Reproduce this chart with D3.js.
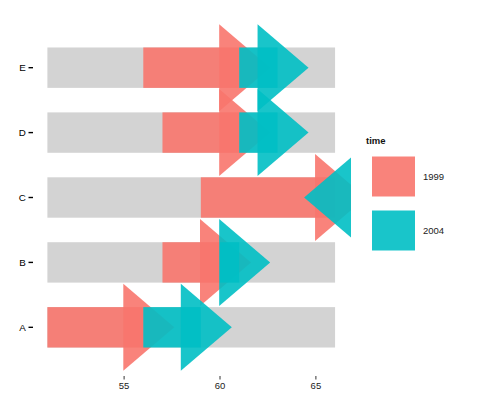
<!DOCTYPE html>
<html>
<head>
<meta charset="utf-8">
<script src="https://cdn.jsdelivr.net/npm/d3@7"></script>
<style>
body{margin:0;background:#fff}
text{font-family:"Liberation Sans",Arial,sans-serif}
</style>
</head>
<body>
<svg width="479" height="409"></svg>
<script>
var categories = ['A','B','C','D','E']
var rangeLow = [51,51,51,51,51]
var rangeHigh = [66,66,66,66,66]
var start1999 = [51,57,59,57,56]
var end1999 = [56,60,66,61,61]
var start2004 = [56,60,66,61,61]
var end2004 = [59,61,66,63,63]
var years = ['1999','2004']
var colors = ['#F8766D','#00BFC4']
var xTicks = [55,60,65]

var svg = d3.select('svg')

// panel box (note: "top" is taken by window, so prefix these)
var panelL = 33, panelR = 351, panelT = 19, panelB = 376

var x = d3.scaleLinear().domain([50.25, 66.83]).range([panelL, panelR])
var y = d3.scalePoint().domain(categories).range([panelB, panelT]).padding(0.75)

var barH = 40.4,   // shaft / bar thickness
    headHalf = 43.5,
    headBack = 20,  // head base sits this far behind the end point
    headFwd = 31    // tip sits this far past the end point

svg.append('clipPath').attr('id', 'panel')
    .append('rect')
    .attr('x', panelL).attr('y', panelT)
    .attr('width', panelR - panelL).attr('height', panelB - panelT)

var g = svg.append('g').attr('clip-path', 'url(#panel)')

// grey range bars
g.selectAll('rect.range')
    .data(categories)
    .enter().append('rect')
    .attr('class', 'range')
    .attr('x', function(d, i) { return x(rangeLow[i]) })
    .attr('width', function(d, i) { return x(rangeHigh[i]) - x(rangeLow[i]) })
    .attr('y', function(d) { return y(d) - barH / 2 })
    .attr('height', barH)
    .attr('fill', '#D3D3D3')

var segs = []
categories.forEach(function(c, i) {
    segs.push({cat: c, year: 0, start: start1999[i], end: end1999[i]})
})
categories.forEach(function(c, i) {
    segs.push({cat: c, year: 1, start: start2004[i], end: end2004[i]})
})

segs.forEach(function(d) {
    var xs = x(d.start), xe = x(d.end), yc = y(d.cat)
    var dir = d.end > d.start ? 1 : -1
    var col = colors[d.year]
    if (xe !== xs) {
        g.append('rect')
            .attr('x', Math.min(xs, xe))
            .attr('width', Math.abs(xe - xs))
            .attr('y', yc - barH / 2)
            .attr('height', barH)
            .attr('fill', col)
            .attr('fill-opacity', 0.9)
    }
    var b = xe - dir * headBack, t = xe + dir * headFwd
    g.append('path')
        .attr('d', 'M' + b + ',' + (yc - headHalf) + 'L' + t + ',' + yc + 'L' + b + ',' + (yc + headHalf) + 'Z')
        .attr('fill', col)
        .attr('fill-opacity', 0.9)
})

// x axis
var xa = svg.append('g')
xa.selectAll('line')
    .data(xTicks)
    .enter().append('line')
    .attr('x1', function(d) { return x(d) }).attr('x2', function(d) { return x(d) })
    .attr('y1', 376).attr('y2', 379.5)
    .attr('stroke', '#333').attr('stroke-width', 1)
xa.selectAll('text')
    .data(xTicks)
    .enter().append('text')
    .attr('x', function(d) { return x(d) })
    .attr('y', 389)
    .attr('text-anchor', 'middle')
    .attr('font-size', 9.5)
    .attr('fill', '#222')
    .text(function(d) { return d })

// y axis
var ya = svg.append('g')
ya.selectAll('line')
    .data(categories)
    .enter().append('line')
    .attr('x1', 28.5).attr('x2', 33)
    .attr('y1', function(d) { return y(d) }).attr('y2', function(d) { return y(d) })
    .attr('stroke', '#000').attr('stroke-width', 1.4)
ya.selectAll('text')
    .data(categories)
    .enter().append('text')
    .attr('x', 25.8)
    .attr('y', function(d) { return y(d) + 3.4 })
    .attr('text-anchor', 'end')
    .attr('font-size', 9.8)
    .attr('fill', '#000')
    .text(function(d) { return d })

// legend
var lg = svg.append('g')
lg.append('text')
    .attr('x', 366).attr('y', 144)
    .attr('font-size', 9.5).attr('font-weight', 'bold')
    .attr('fill', '#111')
    .text('time')
years.forEach(function(yr, i) {
    var ky = 156.5 + i * 54
    lg.append('rect')
        .attr('x', 372).attr('y', ky)
        .attr('width', 43).attr('height', 40)
        .attr('fill', colors[i]).attr('fill-opacity', 0.9)
    lg.append('text')
        .attr('x', 423).attr('y', ky + 23.5)
        .attr('font-size', 9.5).attr('fill', '#222')
        .text(yr)
})
</script>
</body>
</html>
